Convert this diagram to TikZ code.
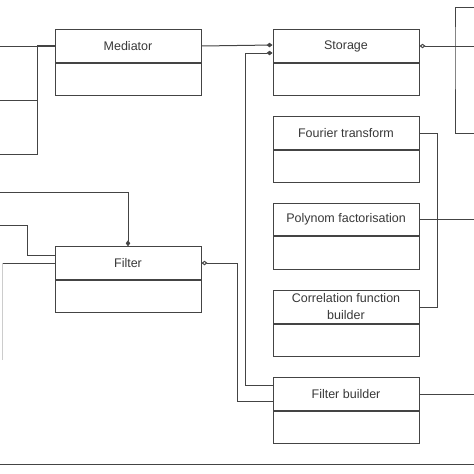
\documentclass[tikz,border=0pt]{standalone}
\usepackage{fontspec}
\setmainfont{Liberation Sans}
\usetikzlibrary{positioning,arrows.meta}
\definecolor{umlline}{HTML}{444444}
\definecolor{umltext}{HTML}{383838}
\begin{document}
\begin{tikzpicture}
            [x=1pt,y=-1pt,line width=1pt,draw=umlline,
             every node/.style={font=\fontsize{12.5}{17}\selectfont,text=umltext},
             classhead/.style={draw=umlline,minimum width=146pt,minimum height=32.5pt,inner sep=1pt,align=center},
             classbody/.style={draw=umlline,minimum width=146pt,minimum height=32.5pt,inner sep=0pt},
             link/.style={draw=umlline},
             comp/.style={link,-{Diamond[length=6pt,width=4.5pt]}},
             aggr/.style={link,{Diamond[open,length=6pt,width=4.5pt]}-}]
            \useasboundingbox (0,0) rectangle (474,474);
            % classes
            \node[classhead] (med) at (128,46) {Mediator};
            \node[classbody,below=0pt of med] (medb) {};
            \node[classhead] (sto) at (346,46) {Storage};
            \node[classbody,below=0pt of sto] (stob) {};
            \node[classhead] (fou) at (346,133.2) {Fourier transform};
            \node[classbody,below=0pt of fou] (foub) {};
            \node[classhead] (pol) at (346,219.7) {Polynom factorisation};
            \node[classbody,below=0pt of pol] (polb) {};
            \node[classhead] (cor) at (346,307) {Correlation function\\builder};
            \node[classbody,below=0pt of cor] (corb) {};
            \node[classhead] (fbu) at (346,394) {Filter builder};
            \node[classbody,below=0pt of fbu] (fbub) {};
            \node[classhead] (fil) at (128,263) {Filter};
            \node[classbody,below=0pt of fil] (filb) {};
            % free ends at the edges
            \coordinate (medin) at (0,46);
            \coordinate (medbus) at (37,46);
            \coordinate (busa) at (0,100);
            \coordinate (busb) at (0,154);
            \coordinate (stoout) at (474,46);
            \coordinate (stobus) at (455,46);
            \coordinate (stoa) at (474,7);
            \coordinate (stob) at (474,133);
            \coordinate (polout) at (474,219.7);
            \coordinate (fbuout) at (474,394);
            \coordinate (fila) at (0,192.3);
            \coordinate (filb2) at (0,225);
            \coordinate (filc) at (2.7,263);
            % mediator
            \draw[link] (medin) -- (med.west);
            \draw[link,line width=1.4pt] (medbus) -- (med.west);
            \draw[link] (medbus) |- (busb);
            \draw[link] (busa) -- (37,100);
            \draw[comp] (med.east) -- ([yshift=1pt]sto.west);
            % storage
            \draw[comp] ([yshift=9pt]fbu.west) -- ++(-27,0) |- ([yshift=-7pt]sto.west);
            \draw[aggr] (sto.east) -- (stoout);
            \draw[link] (stoa) -| (stobus) |- (stob);
            % algorithms
            \draw[link] (fou.east) -- ++(18,0) |- (cor.east);
            \draw[link] (pol.east) -- (polout);
            \draw[link] (fbu.east) -- (fbuout);
            % filter
            \draw[aggr] (fil.east) -- ++(36,0) |- ([yshift=-7pt]fbu.west);
            \draw[comp] (fila) -| (fil.north);
            \draw[link] (filb2) -| (27.7,255) -- ([yshift=8pt]fil.west);
            \draw[link] (filc) -- (fil.west);
            \draw[draw=gray!40] (filc) -- (2.7,360);
            \draw[link] (0,464.3) -- (474,464.3);
        \end{tikzpicture}
\end{document}
